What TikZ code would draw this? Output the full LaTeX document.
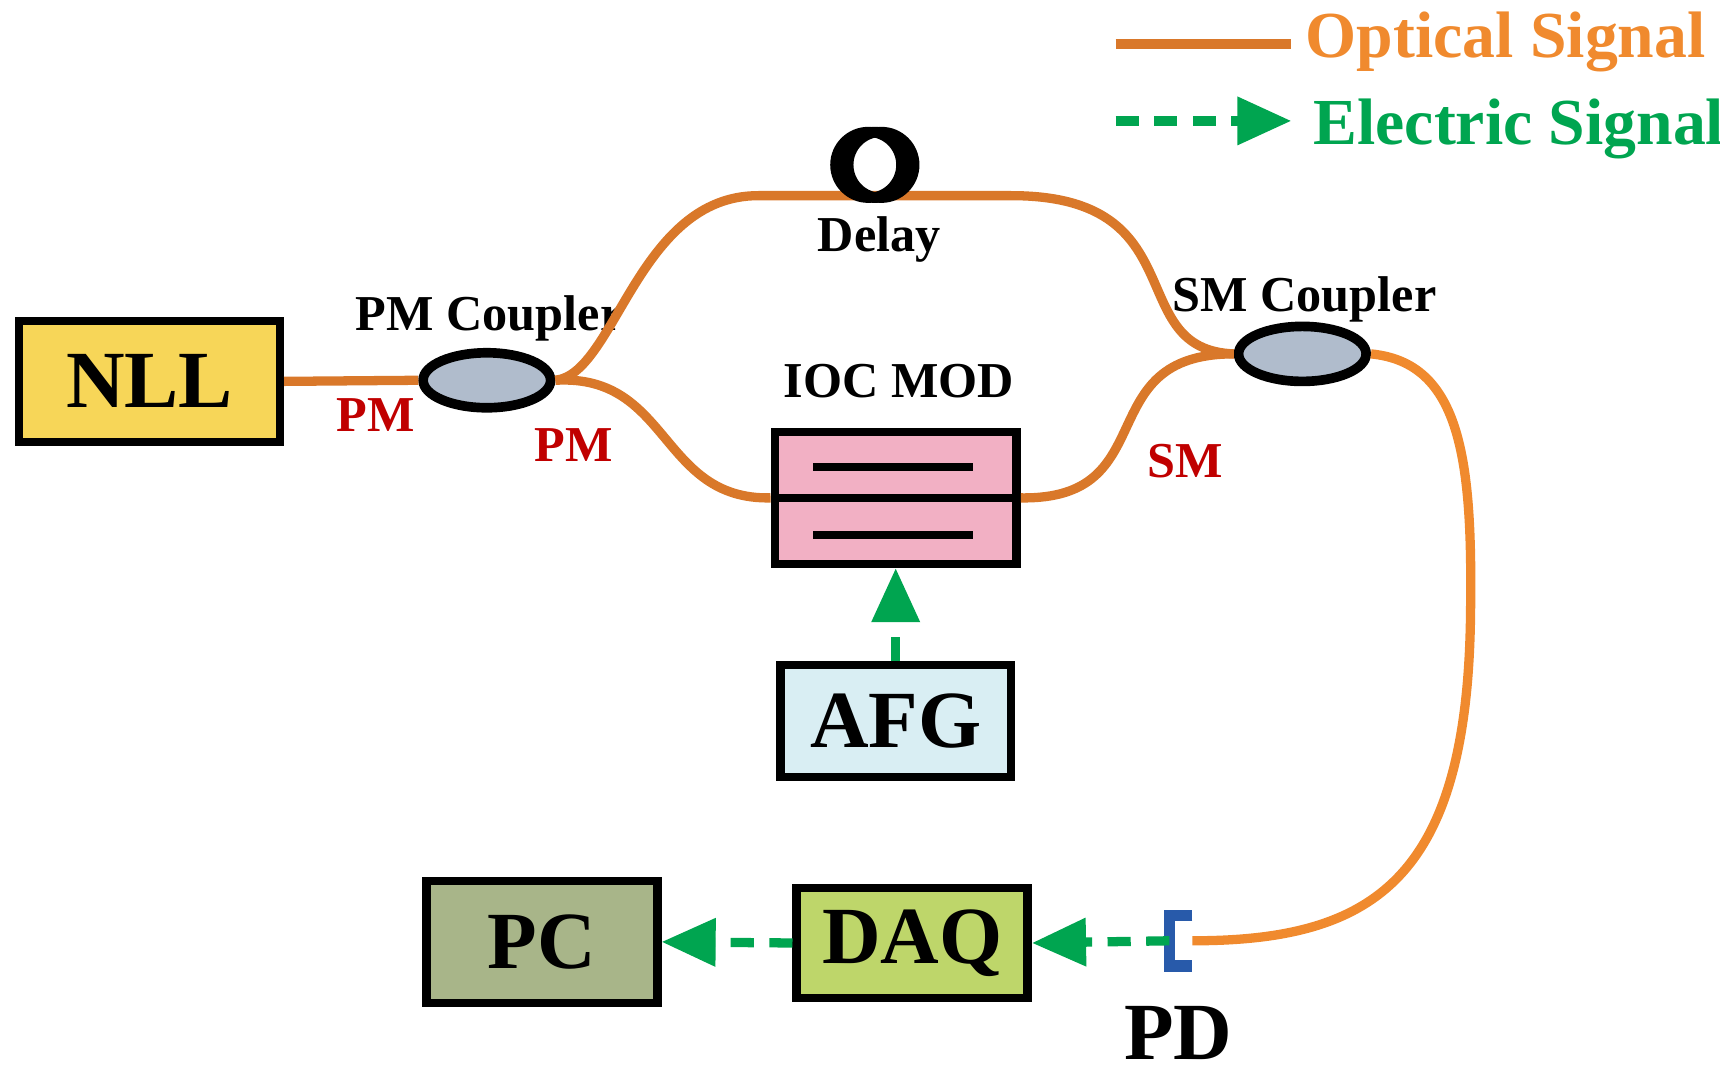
\documentclass[tikz,border=0pt]{standalone}
\usepackage{fontspec}
\setmainfont{Liberation Serif}
\usetikzlibrary{arrows.meta,shapes.geometric}
\definecolor{optic}{HTML}{D9782A}
\definecolor{opticl}{HTML}{F08A2E}
\definecolor{elec}{HTML}{00A550}
\definecolor{pmred}{HTML}{C00000}
\definecolor{pdblue}{HTML}{285AAA}
\begin{document}
\begin{tikzpicture}[x=0.01cm,y=-0.01cm,font=\bfseries,
  box/.style={draw,line width=2.2pt,inner sep=0pt},
  coupler/.style={ellipse,draw,line width=2.5pt,fill={rgb,255:red,176;green,188;blue,204},minimum width=1.16cm,minimum height=0.5cm,inner sep=0pt},
  fiber/.style={optic,line width=2.4pt},
  wire/.style={elec,line width=2.4pt,dash pattern=on 6pt off 4pt,-{Triangle[length=14pt,width=12pt]}},
  lab/.style={font=\bfseries\fontsize{13}{13}\selectfont},
  red/.style={text=pmred,font=\bfseries\fontsize{13}{13}\selectfont}]
\useasboundingbox (0,0) rectangle (1565,975);
% boxes
\node[box,fill={rgb,255:red,247;green,214;blue,88},minimum width=2.37cm,minimum height=1.1cm,font=\bfseries\fontsize{21}{21}\selectfont] (nll) at (136,347) {NLL};
\node[box,fill={rgb,255:red,242;green,176;blue,196},minimum width=2.2cm,minimum height=1.2cm] (ioc) at (815,453) {};
\node[box,fill={rgb,255:red,217;green,238;blue,243},minimum width=2.1cm,minimum height=1.02cm,font=\bfseries\fontsize{21}{21}\selectfont] (afg) at (815,656) {AFG};
\node[box,fill={rgb,255:red,190;green,214;blue,106},minimum width=2.1cm,minimum height=1.0cm,font=\bfseries\fontsize{21}{21}\selectfont] (daq) at (830,858) {DAQ};
\node[box,fill={rgb,255:red,168;green,181;blue,137},minimum width=2.1cm,minimum height=1.11cm,font=\bfseries\fontsize{21}{21}\selectfont] (pc) at (493,857) {PC};
\draw[line width=2.2pt] (ioc.west) -- (ioc.east);
\draw[line width=2.2pt] (740,425) -- (885,425) (740,487) -- (885,487);
% couplers
\node[coupler] (pmc) at (443,346) {};
\node[coupler] (smc) at (1185,322) {};
\node[lab] at (445,290) {PM Coupler};
\node[lab] at (1187,272) {SM Coupler};
\node[lab] at (818,347) {IOC MOD};
\node[lab] at (800,218) {Delay};
\node[red] at (342,378) {PM};
\node[red] at (522,405) {PM};
\node[red] at (1078,420) {SM};
% fibers
\draw[fiber] (nll.east) -- (pmc.west);
\draw[fiber] (pmc.east) .. controls (560,340) and (580,178) .. (690,178) -- (920,178)
  .. controls (1090,178) and (1020,318) .. (smc.west);
\draw[fiber] (pmc.east) .. controls (610,340) and (600,455) .. (ioc.west);
\draw[fiber] (ioc.east) .. controls (1060,455) and (990,322) .. (smc.west);
% delay coil
\foreach \d in {0,6,12} \draw[line width=2.6pt] (790+\d,150) circle (0.3cm);
% PD
\coordinate (pd) at (1085,856);
\draw[pdblue,line width=3pt] (1085,833) -- (1064,833) -- (1064,879) -- (1085,879);
\node[font=\bfseries\fontsize{21}{21}\selectfont] (pdl) at (1072,940) {PD};
\draw[opticl,line width=2.4pt] (smc.east) .. controls (1330,330) and (1340,420) .. (1338,560)
  .. controls (1335,800) and (1250,856) .. (pd);
% electric
\draw[wire] (afg.north) -- (ioc.south);
\draw[wire] (1064,856) -- (daq.east);
\draw[wire] (daq.west) -- (pc.east);
% legend
\coordinate (l1a) at (1015,40); \coordinate (l1b) at (1175,40);
\coordinate (l2a) at (1015,110); \coordinate (l2b) at (1175,110);
\draw[optic,line width=2.4pt] (l1a) -- (l1b);
\draw[wire] (l2a) -- (l2b);
\node[text=opticl,font=\bfseries\fontsize{17}{17}\selectfont] at (1370,38) {Optical Signal};
\node[text=elec,font=\bfseries\fontsize{17}{17}\selectfont] at (1382,117) {Electric Signal};
\end{tikzpicture}
\end{document}
